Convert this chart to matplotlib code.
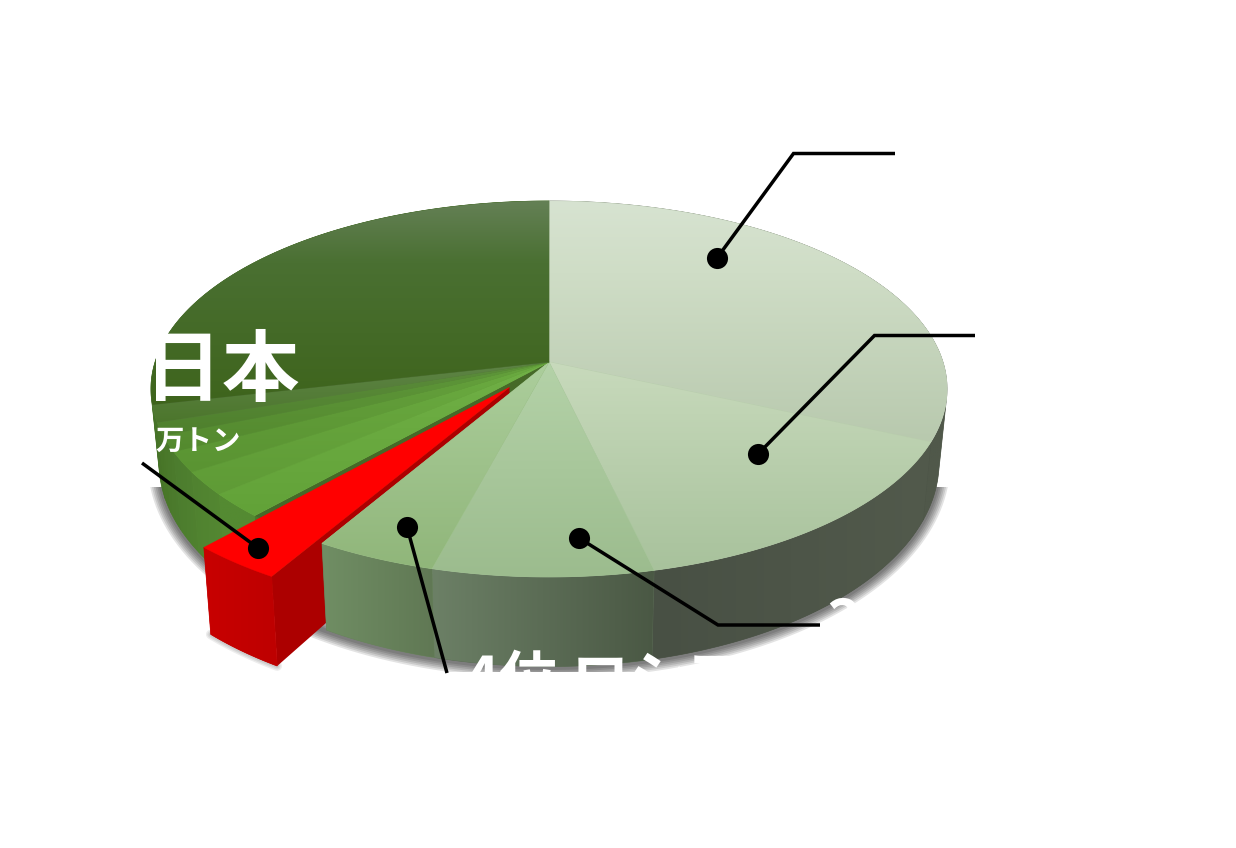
import numpy as np
import matplotlib
matplotlib.use("Agg")
import matplotlib.pyplot as plt
from matplotlib.patches import Polygon, Rectangle

plt.rcParams['font.family'] = ['Noto Sans CJK JP', 'DejaVu Sans']

# ---- data (share of each slice, %, clockwise from 12 o'clock)
categories = ["1位", "2位", "3位", "4位 ロシア", "日本", "a", "b", "c", "d", "e", "f", "その他"]
shares = [31.7, 14.6, 7.8, 4.3, 3.2, 2.1, 2.0, 1.75, 1.36, 1.08, 1.47, 28.6]
exploded_index = 4
explode_dist = 0.167

# ---- style: top gradient stops (upper ... lower), side gradient (left, right)
top_colors = [[(215, 227, 209), (207, 221, 198), (184, 201, 174)],
              [(200, 218, 188), (168, 194, 156)],
              [(180, 210, 168), (156, 188, 142)],
              [(172, 206, 156), (144, 182, 122)],
              [(255, 0, 0), (255, 0, 0)],
              [(112, 176, 70), (98, 162, 56)],
              [(106, 170, 64), (95, 155, 54)],
              [(100, 160, 60), (90, 148, 50)],
              [(94, 150, 58), (84, 138, 46)],
              [(92, 140, 60), (78, 128, 44)],
              [(94, 132, 70), (76, 118, 44)],
              [(100, 128, 85), (74, 112, 50), (62, 100, 28)]]
side_colors = [[(80, 88, 74), (80, 88, 74)],
               [(72, 80, 68), (82, 90, 76)],
               [(108, 128, 102), (74, 88, 68)],
               [(112, 142, 100), (96, 120, 84)],
               [(200, 0, 0), (190, 0, 0)],
               [(84, 138, 50), (84, 138, 50)],
               [(80, 130, 48), (84, 136, 50)],
               [(76, 124, 46), (80, 130, 48)],
               [(74, 120, 42), (76, 124, 46)],
               [(72, 118, 40), (74, 120, 42)],
               [(70, 114, 40), (72, 118, 40)],
               [(70, 112, 40), (70, 112, 40)]]

# ---- projection of the disc
CX, PERSP = 549.0, -0.1436
TOP = (393.9, 184.1, 362.0)
BOT = (386.0, 200.0, 433.0)


def proj(u, v, plane):
    a, b, y0 = plane
    w = 1 + PERSP * v
    return np.column_stack([CX + a * u / w, y0 + b * v / w])


def arc(t0, t1, plane, du=0.0, dv=0.0):
    t = np.linspace(t0, t1, max(4, int(abs(t1 - t0) * 120)))
    return proj(np.sin(t) + du, -np.cos(t) + dv, plane)


def hull(pts):
    p = sorted(map(tuple, pts))

    def half(seq):
        out = []
        for q in seq:
            while len(out) > 1 and ((out[-1][0] - out[-2][0]) * (q[1] - out[-2][1])
                                    - (out[-1][1] - out[-2][1]) * (q[0] - out[-2][0])) <= 0:
                out.pop()
            out.append(q)
        return out[:-1]
    return np.array(half(p) + half(p[::-1]))


fig = plt.figure(figsize=(12.36, 8.48), dpi=100)
ax = fig.add_axes([0, 0, 1, 1])
ax.set_axis_off()


def gfill(pts, stops, horizontal, z):
    stops = np.array(stops, float) / 255
    mean = stops.mean(axis=0)
    ax.add_patch(Polygon(pts, closed=True, fc=mean, ec=mean, lw=0.5, zorder=z))
    f = np.linspace(0, 1, 128)
    pos = np.linspace(0, 1, len(stops))
    if len(stops) == 3:
        pos = np.array([0, 0.3, 1.0])
    col = np.column_stack([np.interp(f, pos, stops[:, k]) for k in range(3)])
    img = col[None, :, :] if horizontal else col[:, None, :]
    x0, y0 = pts.min(axis=0)
    x1, y1 = pts.max(axis=0)
    im = ax.imshow(img, extent=(x0, x1, y1, y0), origin='upper', aspect='auto',
                   interpolation='bilinear', zorder=z + 0.1)
    im.set_clip_path(Polygon(pts, closed=True, transform=ax.transData))


vals = np.array(shares, float)
edges = np.concatenate([[0], np.cumsum(vals)]) / vals.sum() * 2 * np.pi
t0s, t1s = edges[:-1], edges[1:]

ti, tj = t0s[exploded_index], t1s[exploded_index]
tm = (ti + tj) / 2
du, dv = explode_dist * np.sin(tm), -explode_dist * np.cos(tm)
red_bot = arc(ti, tj, BOT, du, dv)
red_top = arc(ti, tj, TOP, du, dv)
tip_top = proj(np.array([du]), np.array([dv]), TOP)
tip_bot = proj(np.array([du]), np.array([dv]), BOT)
apex = proj(np.array([0.0]), np.array([0.0]), TOP)
apex_bot = proj(np.array([0.0]), np.array([0.0]), BOT)

# shadow
shadow_clip = Rectangle((0, 487), 1236, 185, transform=ax.transData)
outline = arc(0, 2 * np.pi, BOT)
for lw in np.arange(16, 1, -2.5):
    p, = ax.plot(outline[:, 0], outline[:, 1] + 1, color='black', lw=lw, alpha=0.11,
                 solid_joinstyle='round', zorder=1)
    p.set_clip_path(shadow_clip)
for lw in (7, 5, 3):
    p, = ax.plot(red_bot[:, 0], red_bot[:, 1], color='black', lw=lw, alpha=0.07,
                 solid_capstyle='round', zorder=1)
    p.set_clip_path(shadow_clip)

# side walls: slices nearest the viewer are painted last
n_slices = len(shares)
for i, (a, b) in enumerate(zip(t0s, t1s)):
    if i in (exploded_index, exploded_index - 1):
        continue
    pts = hull(np.vstack([arc(a, b, TOP), arc(a, b, BOT)]))
    depth = i if i < exploded_index else n_slices - i
    gfill(pts, side_colors[i], True, 2 + depth * 0.2)

# gap left by the pulled-out slice: inner wall of the neighbour
nb = np.vstack([apex, arc(tj, tj, TOP)[:1], arc(tj, tj, BOT)[:1], apex_bot])
ax.add_patch(Polygon(nb, closed=True, fc=(74 / 255, 118 / 255, 42 / 255), ec='none', zorder=4.8))
gap = np.vstack([apex, arc(ti, tj, TOP)])
ax.add_patch(Polygon(gap, closed=True, fc=(70 / 255, 105 / 255, 40 / 255), ec='none', zorder=5))

# radial wall of the pulled-out slice
wall = np.vstack([tip_top, red_top[:1], red_bot[:1], tip_bot])
ax.add_patch(Polygon(wall, closed=True, fc=(172 / 255, 0, 0), ec='none', zorder=6))

# side of the neighbour in front of that wall
i = exploded_index - 1
pts = np.vstack([arc(t0s[i], t1s[i], TOP), arc(t0s[i], t1s[i], BOT)[::-1]])
gfill(pts, side_colors[i], True, 7)

# top faces
for i, (a, b) in enumerate(zip(t0s, t1s)):
    if i == exploded_index:
        continue
    pts = np.vstack([apex, arc(a, b, TOP)])
    gfill(pts, top_colors[i], False, 8 + i * 0.2)

# pulled-out slice
pts = np.vstack([red_top, red_bot[::-1]])
gfill(pts, side_colors[exploded_index], True, 12)
ax.add_patch(Polygon(np.vstack([tip_top, red_top]), closed=True, fc=(1, 0, 0), ec=(1, 0, 0),
                     lw=0.3, zorder=13))

# leader lines
leaders = [((895, 153.5), (793.5, 153.5), (717, 258)),
           ((975, 335.5), (874.5, 335.5), (758, 454)),
           ((820, 625), (718, 625), (579, 538)),
           ((447, 673), (407, 527)),
           ((142, 463), (258, 548))]
for ln in leaders:
    xy = np.array(ln)
    ax.plot(xy[:, 0], xy[:, 1], color='black', lw=2.5, solid_capstyle='butt',
            solid_joinstyle='miter', zorder=20)
    ax.plot(xy[-1, 0], xy[-1, 1], 'o', color='black', ms=15.2, mew=0, zorder=21)

# white labels (visible only where they cross the pie)
ax.text(300, 395, "日本", color='white', fontsize=56, fontweight='bold', ha='right',
        va='baseline', zorder=30)
ax.text(241, 450, "万トン", color='white', fontsize=20.5, fontweight='bold', ha='right',
        va='baseline', zorder=30)
ax.text(465, 699, "4位 ロシア", color='white', fontsize=42, fontweight='bold', ha='left',
        va='baseline', zorder=30)
ax.text(826, 643, "3位", color='white', fontsize=42, fontweight='bold', ha='left',
        va='baseline', zorder=30)

ax.set_xlim(0, 1236)
ax.set_ylim(848, 0)
fig.savefig("out.png", dpi=100, facecolor='white')
